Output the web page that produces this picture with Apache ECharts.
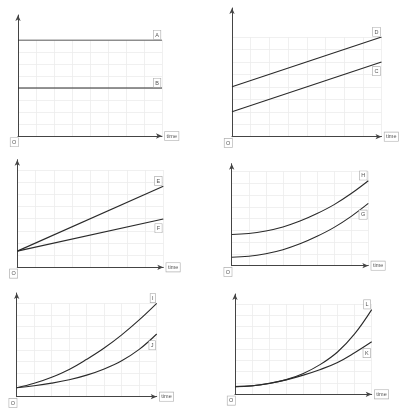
<!DOCTYPE html>
<html><head><meta charset="utf-8">
<script src="https://cdn.jsdelivr.net/npm/echarts@6/dist/echarts.min.js"></script>
<style>html,body{margin:0;padding:0;background:#fff}#c{width:403px;height:411px}</style>
</head><body><div id="c"></div>
<script>
// ---- data ----
const timeEnds = [0, 8];
const timeSteps = [0, 1, 2, 3, 4, 5, 6, 7, 8];
const seriesA = [8, 8];
const seriesB = [4, 4];
const seriesC = [2, 6];
const seriesD = [4, 8];
const seriesE = [1.33, 6.67];
const seriesF = [1.33, 3.97];
const seriesG = [0.72, 0.8, 1.02, 1.36, 1.86, 2.5, 3.26, 4.2, 5.3];
const seriesH = [2.66, 2.74, 2.96, 3.3, 3.8, 4.44, 5.2, 6.14, 7.23];
const seriesI = [0.77, 1.15, 1.67, 2.33, 3.2, 4.17, 5.3, 6.58, 8.0];
const seriesJ = [0.77, 0.94, 1.16, 1.45, 1.85, 2.38, 3.08, 4.05, 5.37];
const seriesK = [0.68, 0.76, 0.97, 1.28, 1.7, 2.2, 2.82, 3.68, 4.65];
const seriesL = [0.68, 0.75, 0.95, 1.3, 1.85, 2.65, 3.75, 5.35, 7.5];
const axisXName = 'time';
const originName = 'O';

// ---- layout ----
const panels = [
  {geo:{l:18,t:40,r:162,b:136,tip:12}, lines:[
    {name:'A', x:timeEnds, y:seriesA, above:true},
    {name:'B', x:timeEnds, y:seriesB, above:true}]},
  {geo:{l:232,t:37,r:381.5,b:136.7,tip:5}, lines:[
    {name:'D', x:timeEnds, y:seriesD, above:true},
    {name:'C', x:timeEnds, y:seriesC, above:false}]},
  {geo:{l:17.3,t:170,r:163.3,b:267.3,tip:156.7}, lines:[
    {name:'E', x:timeEnds, y:seriesE, above:true},
    {name:'F', x:timeEnds, y:seriesF, above:false}]},
  {geo:{l:231.7,t:171.7,r:368.3,b:265.7,tip:160.7}, lines:[
    {name:'H', x:timeSteps, y:seriesH, above:true, smooth:true},
    {name:'G', x:timeSteps, y:seriesG, above:false, smooth:true}]},
  {geo:{l:16.7,t:303.3,r:156.7,b:396.7,tip:290}, lines:[
    {name:'I', x:timeSteps, y:seriesI, above:true, smooth:true},
    {name:'J', x:timeSteps, y:seriesJ, above:false, smooth:true}]},
  {geo:{l:235,t:304,r:371.7,b:394.3,tip:291}, lines:[
    {name:'L', x:timeSteps, y:seriesL, above:true, smooth:true},
    {name:'K', x:timeSteps, y:seriesK, above:false, smooth:true}]}
];

const boxStyle = {fontSize:5.5, color:'#555', fontFamily:'Liberation Sans',
  borderColor:'#aaa', borderWidth:0.6, padding:[1.5,1.6,1,1.6], backgroundColor:'#fff'};
const axisLineStyle = {color:'#444', width:1};
const splitStyle = {color:'#ececec', width:0.8};

const grid=[], xAxis=[], yAxis=[], series=[];
panels.forEach(p => {
  const g = p.geo;
  const gi = grid.length;
  grid.push({left:g.l, top:g.t, width:g.r-g.l, height:g.b-g.t, outerBoundsMode:'none', containLabel:false});
  grid.push({left:g.l, top:g.tip+3, width:g.r-g.l, height:g.b-g.tip-3, outerBoundsMode:'none', containLabel:false});
  xAxis.push({gridIndex:gi, type:'value', min:0, max:8, interval:1,
    axisLine:{show:true, symbol:['none','arrow'], symbolSize:[4,6], lineStyle:axisLineStyle},
    axisTick:{show:false}, axisLabel:{show:false},
    splitLine:{show:true, lineStyle:splitStyle},
    name:axisXName, nameLocation:'end', nameGap:3, nameTextStyle:Object.assign({}, boxStyle)});
  yAxis.push({gridIndex:gi, type:'value', min:0, max:8, interval:1,
    axisLine:{show:false}, axisTick:{show:false}, axisLabel:{show:false},
    splitLine:{show:true, lineStyle:splitStyle}});
  xAxis.push({gridIndex:gi+1, type:'value', min:0, max:8, show:false});
  yAxis.push({gridIndex:gi+1, type:'value', min:0, max:1,
    axisLine:{show:true, symbol:['none','arrow'], symbolSize:[4,6], lineStyle:axisLineStyle},
    axisTick:{show:false}, axisLabel:{show:false}, splitLine:{show:false},
    name:originName, nameLocation:'start', nameGap:2,
    nameTextStyle:Object.assign({}, boxStyle, {align:'right', verticalAlign:'top'})});
  p.lines.forEach(ln => {
    series.push({
      type:'line', name:ln.name, xAxisIndex:gi, yAxisIndex:gi,
      data: ln.x.map((xv, i) => [xv, ln.y[i]]),
      smooth: ln.smooth ? 0.4 : false,
      showSymbol:false, symbol:'none', silent:true,
      lineStyle:{color:'#2a2a2a', width:1.1},
      emphasis:{disabled:true},
      endLabel:Object.assign({show:true, formatter:'{a}', distance:0,
        align:'right', verticalAlign: ln.above ? 'bottom' : 'top',
        offset:[-1.5, ln.above ? -1 : (ln.smooth ? 7 : 5)]}, boxStyle)
    });
  });
});

const chart = echarts.init(document.getElementById('c'), null, {renderer:'canvas'});
chart.setOption({animation:false, backgroundColor:'#fff', grid, xAxis, yAxis, series, tooltip:{show:false}});
</script></body></html>
